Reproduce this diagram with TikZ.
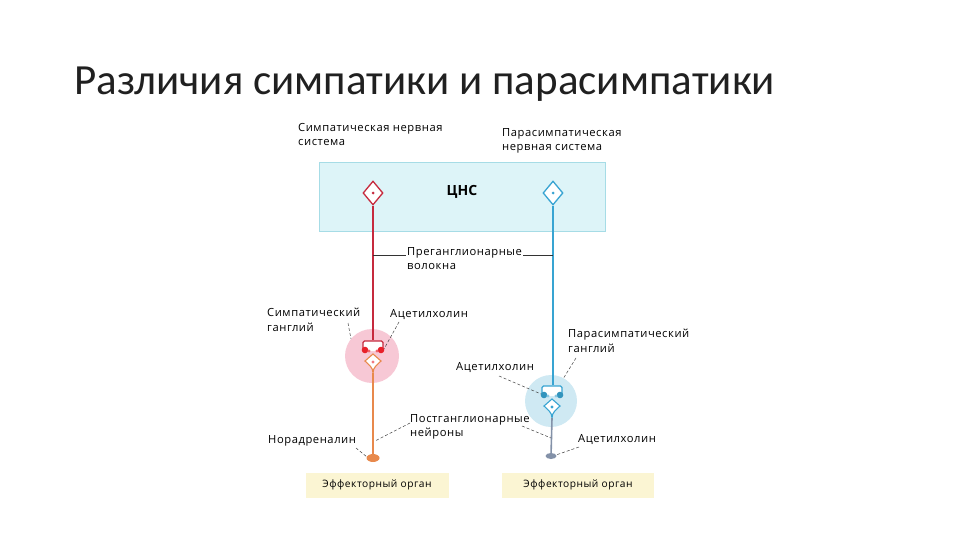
\documentclass[tikz,border=0pt]{standalone}
\usepackage{fontspec}
\setmainfont{Open Sans}
\newfontfamily\titlefont{Carlito}
\newfontfamily\labfont[LetterSpace=5]{Open Sans}
\usetikzlibrary{shapes.geometric,positioning,calc}
\definecolor{symColor}{HTML}{C62A3E}
\definecolor{parColor}{HTML}{38A4D2}
\definecolor{postColor}{HTML}{E8894C}
\definecolor{greyFiber}{HTML}{8391A8}
\definecolor{cnsFill}{HTML}{DDF4F8}
\definecolor{cnsDraw}{HTML}{A6DCE6}
\definecolor{pinkGang}{HTML}{F7C8D5}
\definecolor{blueGang}{HTML}{CFE9F3}
\definecolor{organFill}{HTML}{FBF5D3}
\definecolor{boutonRed}{HTML}{E8202A}
\definecolor{titleGrey}{HTML}{202020}
\tikzset{
	lab/.style={font=\labfont\fontsize{11.2}{14.5}\selectfont, align=left, inner sep=0pt, anchor=north west},
	soma/.style={diamond, draw, line width=1.3pt, fill=white, minimum width=20, minimum height=24, inner sep=0pt},
	leader/.style={densely dashed, line width=0.5pt, black!75},
	organ/.style={fill=organFill, minimum width=143, minimum height=25, inner sep=0pt, font=\labfont\fontsize{10.2}{12}\selectfont},
	gang/.style={circle, minimum size=#1, inner sep=0pt}
}

\begin{document}
\begin{tikzpicture}[x=1pt,y=-1pt]
	\useasboundingbox (0,0) rectangle (960,540);
	\node[anchor=base west, inner sep=0pt, text=titleGrey, font=\titlefont\fontsize{43}{48}\selectfont] at (74,95) (title) {Различия симпатики и парасимпатики};
	% CNS box
	\node[draw=cnsDraw, fill=cnsFill, line width=1pt, minimum width=286, minimum height=68, inner sep=0pt] at (462,197) (cns) {};
	\node[font=\fontsize{14}{16}\selectfont\bfseries] at (462,192) (cnslab) {ЦНС};
	\node[lab] at (298,123) (symlab) {Симпатическая нервная\\система};
	\node[lab] at (502,128) (parlab) {Парасимпатическая\\нервная система};
	% ganglia
	\node[gang=54, fill=pinkGang] at (372,356) (sgang) {};
	\node[gang=52, fill=blueGang] at (551,401) (pgang) {};
	% preganglionic somata
	\node[soma, draw=symColor] at (373,193) (ssoma) {};
	\fill[symColor] (ssoma.center) circle (1.5);
	\node[soma, draw=parColor] at (553,193) (psoma) {};
	\fill[parColor] (psoma.center) circle (1.5);
	\coordinate (sterm) at (373,340);
	\coordinate (pterm) at (553,385);
	\draw[symColor, line width=1.3pt] (ssoma.south) -- (sterm);
	\draw[parColor, line width=1.3pt] (psoma.south) -- (pterm);
	% sympathetic synapse
	\draw[symColor, line width=1.2pt, fill=white, rounded corners=1.5] (363,351) -- (363,341) -- (383,341) -- (383,351);
	\fill[boutonRed] (365,350) circle (3.3) (381,350) circle (3.3);
	\fill[boutonRed!70] (369,351) circle (1.6) (377,351) circle (1.6);
	\draw[postColor, line width=1.1pt, fill=white] (373,354) -- (365,361) to[out=-45,in=90] (373,373) to[out=90,in=-135] (381,361) -- cycle;
	\fill[boutonRed!60] (373,362) circle (1.6);
	\node[ellipse, fill=postColor, minimum width=13, minimum height=8, inner sep=0pt] at (373,458) (noraEnd) {};
	\draw[postColor, line width=1.6pt] (373,373) -- (noraEnd);
	% parasympathetic synapse
	\draw[parColor, line width=1.2pt, fill=white, rounded corners=1.5] (542,396) -- (542,386) -- (562,386) -- (562,396);
	\fill[parColor!90!black] (544,395) circle (3.3) (560,395) circle (3.3);
	\fill[parColor!60] (548,396) circle (1.6) (556,396) circle (1.6);
	\draw[parColor, line width=1.1pt, fill=white] (552,399) -- (544,406) to[out=-45,in=90] (552,418) to[out=90,in=-135] (560,406) -- cycle;
	\fill[parColor] (552,407) circle (1.6);
	\node[ellipse, fill=greyFiber, minimum width=11, minimum height=6, inner sep=0pt] at (551,456) (achEnd) {};
	\draw[greyFiber, line width=1.6pt] (552,418) -- (achEnd);
	% effector organs
	\node[organ] at (377,485) (sorgan) {Эффекторный орган};
	\node[organ, minimum width=152] at (578,485) (porgan) {Эффекторный орган};
	% labels
	\node[lab] at (407,247) (pre) {Преганглионарные\\волокна};
	\draw[black!80, line width=0.6pt] (373,255) -- (406,255);
	\draw[black!80, line width=0.6pt] (523,255) -- (553,255);
	\node[lab] at (267,308) (sganglab) {Симпатический\\ганглий};
	\node[lab] at (390,309) (sach) {Ацетилхолин};
	\node[lab] at (568,329) (pganglab) {Парасимпатический\\ганглий};
	\node[lab] at (456,362) (pach) {Ацетилхолин};
	\node[lab] at (410,414) (post) {Постганглионарные\\нейроны};
	\node[lab] at (268,435) (nora) {Норадреналин};
	\node[lab] at (578,434) (pach2) {Ацетилхолин};
	\draw[leader] (348,323) -- (351,339);
	\draw[leader] (399,322) -- (384,349);
	\draw[leader] (576,358) -- (563,379);
	\draw[leader] (499,376) -- (541,394);
	\draw[leader] (410,423) -- (375,441);
	\draw[leader] (522,426) -- (551,438);
	\draw[leader] (356,448) -- (367,457);
	\draw[leader] (579,447) -- (556,455);
\end{tikzpicture}
\end{document}
